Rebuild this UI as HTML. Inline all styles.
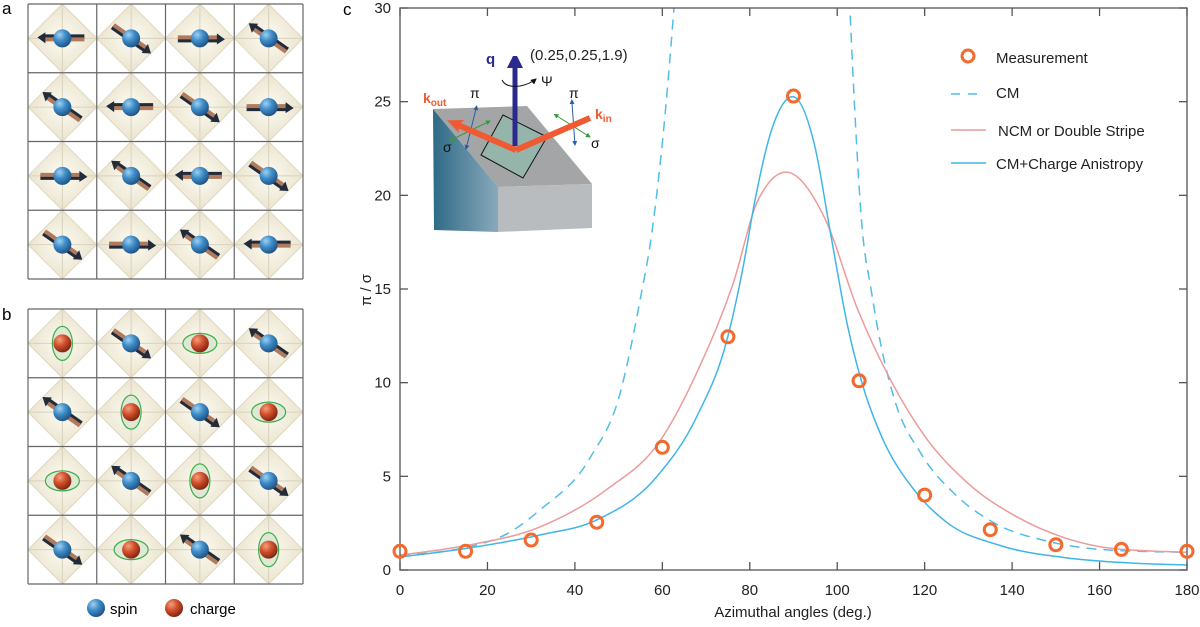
<!DOCTYPE html>
<html><head><meta charset="utf-8"><style>
body{margin:0;background:#fff;}
svg{display:block;font-family:"Liberation Sans",sans-serif;}
</style></head><body>
<svg id="fig" width="1200" height="627" viewBox="0 0 1200 627">
<defs>
<radialGradient id="blueBall" cx="0.35" cy="0.3" r="0.75"><stop offset="0" stop-color="#9fd0f0"/><stop offset="0.45" stop-color="#3f8ec9"/><stop offset="1" stop-color="#1d4f80"/></radialGradient>
<radialGradient id="redBall" cx="0.35" cy="0.3" r="0.75"><stop offset="0" stop-color="#f2a080"/><stop offset="0.45" stop-color="#d2502c"/><stop offset="1" stop-color="#7a2210"/></radialGradient>
<radialGradient id="diam" cx="0.5" cy="0.5" r="0.6"><stop offset="0" stop-color="#fdfbf3"/><stop offset="1" stop-color="#e6dfc6"/></radialGradient>
<linearGradient id="sideBlue" x1="0" x2="1" y1="0" y2="0"><stop offset="0" stop-color="#2f6a86"/><stop offset="1" stop-color="#8aa9bb"/></linearGradient>
<marker id="ahO" markerWidth="16" markerHeight="14" refX="4" refY="7" orient="auto" markerUnits="userSpaceOnUse"><path d="M0,0 L16,7 L0,14 L4,7 Z" fill="#f05a32"/></marker>
<marker id="ahB" markerWidth="12" markerHeight="16" refX="2" refY="8" orient="auto" markerUnits="userSpaceOnUse"><path d="M0,0 L16,8 L0,16 Z" fill="#2b2a8c"/></marker>
<marker id="ahS" markerWidth="5" markerHeight="5" refX="4" refY="2.5" orient="auto" markerUnits="userSpaceOnUse"><path d="M0,0 L5,2.5 L0,5 Z" fill="#2a5caa"/></marker>
<marker id="ahG" markerWidth="5" markerHeight="5" refX="4" refY="2.5" orient="auto" markerUnits="userSpaceOnUse"><path d="M0,0 L5,2.5 L0,5 Z" fill="#3a9a3a"/></marker>
<marker id="ahS0" markerWidth="5" markerHeight="5" refX="1" refY="2.5" orient="auto-start-reverse" markerUnits="userSpaceOnUse"><path d="M0,0 L5,2.5 L0,5 Z" fill="#2a5caa"/></marker>
<marker id="ahG0" markerWidth="5" markerHeight="5" refX="1" refY="2.5" orient="auto-start-reverse" markerUnits="userSpaceOnUse"><path d="M0,0 L5,2.5 L0,5 Z" fill="#3a9a3a"/></marker>
<marker id="ahK" markerWidth="6" markerHeight="6" refX="5" refY="3" orient="auto" markerUnits="userSpaceOnUse"><path d="M0,0 L6,3 L0,6 Z" fill="#111"/></marker>
</defs>
<text x="2" y="14" font-size="17">a</text>
<text x="2" y="320" font-size="17">b</text>
<text x="343" y="15" font-size="17">c</text>
<g id="panelA"></g>
<g id="panelB"></g>
<g>
<circle cx="96" cy="608" r="9" fill="url(#blueBall)"/>
<text x="110" y="614" font-size="15">spin</text>
<circle cx="174" cy="608" r="9" fill="url(#redBall)"/>
<text x="190" y="614" font-size="15">charge</text>
</g>
<g id="chart"></g>
<g>
<polygon points="433,109 527,106 592,184 498,187" fill="#a3a5a7"/>
<polygon points="433,109 498,187 498,232 434,230" fill="url(#sideBlue)"/>
<polygon points="498,187 592,184 592,228 498,232" fill="#b9bcbf"/>
<polygon points="503,115 547,137 523,178 481,155" fill="#95b5aa" stroke="#111" stroke-width="1"/>
<line x1="572" y1="103" x2="575" y2="145" stroke="#2a5caa" stroke-width="1" marker-end="url(#ahS)" marker-start="url(#ahS0)"/>
<line x1="557" y1="116" x2="590" y2="137" stroke="#3a9a3a" stroke-width="1" marker-end="url(#ahG)" marker-start="url(#ahG0)"/>
<line x1="476" y1="109" x2="466" y2="149" stroke="#2a5caa" stroke-width="1" marker-end="url(#ahS)" marker-start="url(#ahS0)"/>
<line x1="453" y1="139" x2="490" y2="121" stroke="#3a9a3a" stroke-width="1" marker-end="url(#ahG)" marker-start="url(#ahG0)"/>
<line x1="590" y1="118" x2="516" y2="150" stroke="#f05a32" stroke-width="6"/>
<line x1="516" y1="150" x2="458" y2="125" stroke="#f05a32" stroke-width="6" marker-end="url(#ahO)"/>
<line x1="515" y1="146" x2="515" y2="66" stroke="#2b2a8c" stroke-width="5" marker-end="url(#ahB)"/>
<path d="M502,80 Q506,88 520,86 Q530,84 536,79" fill="none" stroke="#111" stroke-width="1" marker-end="url(#ahK)"/>
<text x="486" y="64" font-size="15" font-weight="bold" fill="#2b2a8c">q</text>
<text x="530" y="60" font-size="15" fill="#222">(0.25,0.25,1.9)</text>
<text x="541" y="86" font-size="14" fill="#222">Ψ</text>
<text x="423" y="103" font-size="14" font-weight="bold" fill="#f05a32">k<tspan font-size="10" dy="3">out</tspan></text>
<text x="470" y="98" font-size="14" fill="#111">π</text>
<text x="569" y="98" font-size="14" fill="#111">π</text>
<text x="595" y="119" font-size="14" font-weight="bold" fill="#f05a32">k<tspan font-size="10" dy="3">in</tspan></text>
<text x="443" y="152" font-size="14" fill="#111">σ</text>
<text x="591" y="148" font-size="14" fill="#111">σ</text>
</g>
</svg>
<script>
// ---------- chart data ----------
const measAngles = [0,15,30,45,60,75,90,105,120,135,150,165,180];
const measValues = [1.0,1.0,1.6,2.55,6.55,12.45,25.3,10.1,4.0,2.15,1.35,1.1,1.0];
const cmLeftAngles = [0,15,25,32,43.5,50.3,54.9,57.6,60.5,63];
const cmLeftValues = [0.8,1.2,2.0,3.2,6.0,9.4,14.4,18,24,31];
const cmRightAngles = [102.8,104,105.5,107.8,110,113.1,119.2,126.9,136,148.2,163.4,180];
const cmRightValues = [30.5,24.6,18.8,14.9,12,9.1,6.2,4.05,2.5,1.53,1.05,0.95];
const ncmAngles = [0,15,32,47.3,59.5,68.6,76.2,81.9,88.3,97.1,104.7,112.4,120,129.9,140.6,152,163.4,180];
const ncmValues = [0.8,1.3,2.3,4.3,6.9,10.9,15.3,19.75,21.24,18.8,13.9,10.06,7.15,4.63,2.9,1.72,1.14,0.95];
const caAngles = [0,15,32,45,58.8,67.9,74.8,78.5,81.2,85,89.8,94.8,98.6,102.4,106.3,110.1,117.7,125.3,136.8,152,167.3,180];
const caValues = [0.7,1.15,1.87,2.67,5.0,8.2,12.3,16.2,19.75,23.5,25.27,22.7,17.8,13,9.5,7.15,4.24,2.5,1.34,0.66,0.37,0.27];
const xTicks = [0,20,40,60,80,100,120,140,160,180];
const yTicks = [0,5,10,15,20,25,30];

const NS='http://www.w3.org/2000/svg';
const X0=400,X1=1187,Y0=570,Y1=8;
const xs=v=>X0+(v/180)*(X1-X0);
const ys=v=>Y0-(v/30)*(Y0-Y1);
function mk(tag,attrs,parent){const e=document.createElementNS(NS,tag);for(const k in attrs)e.setAttribute(k,attrs[k]);parent.appendChild(e);return e;}
const chart=document.getElementById('chart');

const cp=mk('clipPath',{id:'plotClip'},chart);
mk('rect',{x:X0,y:Y1,width:X1-X0,height:Y0-Y1},cp);

// monotone cubic (in x) path
function pathFrom(ax,vals){
  const X=ax.map(xs),Y=vals.map(ys),n=X.length;
  const m=[],t=[];
  for(let i=0;i<n-1;i++)m.push((Y[i+1]-Y[i])/(X[i+1]-X[i]));
  for(let i=1;i<n-1;i++){
    const h0=X[i]-X[i-1],h1=X[i+1]-X[i],s0=m[i-1],s1=m[i];
    const p=(s0*h1+s1*h0)/(h0+h1);
    t[i]=(Math.sign(s0)+Math.sign(s1))*Math.min(Math.abs(s0),Math.abs(s1),0.5*Math.abs(p))||0;
  }
  t[0]=n>2?(3*m[0]-t[1])/2:m[0];
  t[n-1]=n>2?(3*m[n-2]-t[n-2])/2:m[0];
  let d='M'+X[0]+','+Y[0];
  for(let i=0;i<n-1;i++){
    const dx=(X[i+1]-X[i])/3;
    d+=` C${X[i]+dx},${Y[i]+dx*t[i]} ${X[i+1]-dx},${Y[i+1]-dx*t[i+1]} ${X[i+1]},${Y[i+1]}`;
  }
  return d;
}
const curves=mk('g',{'clip-path':'url(#plotClip)'},chart);


let e;
e=mk('path',{d:pathFrom(cmLeftAngles,cmLeftValues),fill:'none',stroke:'#52bde8','stroke-width':1.5,'stroke-dasharray':'10,7'},curves);


e=mk('path',{d:pathFrom(cmRightAngles,cmRightValues),fill:'none',stroke:'#52bde8','stroke-width':1.5,'stroke-dasharray':'10,7'},curves);


e=mk('path',{d:pathFrom(ncmAngles,ncmValues),fill:'none',stroke:'#ec9a9a','stroke-width':1.5},curves);


e=mk('path',{d:pathFrom(caAngles,caValues),fill:'none',stroke:'#3fb6e8','stroke-width':1.5},curves);



e=mk('rect',{x:X0,y:Y1,width:X1-X0,height:Y0-Y1,fill:'none',stroke:'#555','stroke-width':1.3},chart);


xTicks.forEach(t=>{
  const x=xs(t);
  mk('line',{x1:x,y1:Y0,x2:x,y2:Y0-8,stroke:'#555','stroke-width':1.3},chart);
  mk('line',{x1:x,y1:Y1,x2:x,y2:Y1+8,stroke:'#555','stroke-width':1.3},chart);
  const tx=mk('text',{x:x,y:Y0+25,'font-size':15,'text-anchor':'middle',fill:'#222'},chart);
  tx.textContent=t;
  
  
});
yTicks.forEach(t=>{
  const y=ys(t);
  mk('line',{x1:X0,y1:y,x2:X0+8,y2:y,stroke:'#555','stroke-width':1.3},chart);
  mk('line',{x1:X1,y1:y,x2:X1-8,y2:y,stroke:'#555','stroke-width':1.3},chart);
  const ty=mk('text',{x:X0-9,y:y+5,'font-size':15,'text-anchor':'end',fill:'#222'},chart);
  ty.textContent=t;
  
  
});
e=mk('text',{x:793,y:617,'font-size':15,'text-anchor':'middle',fill:'#222'},chart);
e.textContent='Azimuthal angles (deg.)';


e=mk('text',{x:0,y:0,'font-size':15,'text-anchor':'middle',fill:'#222',transform:'translate(371,290) rotate(-90)'},chart);
e.textContent='π / σ';



measAngles.forEach((a,i)=>{
  const c=mk('circle',{cx:xs(a),cy:ys(measValues[i]),r:6,fill:'none',stroke:'#f26a2e','stroke-width':3},chart);
  
  
});

const lg=mk('g',{},chart);


e=mk('circle',{cx:968,cy:56,r:6,fill:'none',stroke:'#f26a2e','stroke-width':3},lg);


e=mk('line',{x1:951,y1:94,x2:980,y2:94,stroke:'#52bde8','stroke-width':1.5,'stroke-dasharray':'9,8'},lg);


e=mk('line',{x1:951,y1:130,x2:986,y2:130,stroke:'#ec9a9a','stroke-width':1.5},lg);


e=mk('line',{x1:951,y1:163,x2:986,y2:163,stroke:'#3fb6e8','stroke-width':1.5},lg);


[['Measurement',996,63],['CM',996,98],['NCM or Double Stripe',998,136],['CM+Charge Anistropy',996,169]].forEach(s=>{
  const t=mk('text',{x:s[1],y:s[2],'font-size':15,fill:'#222'},lg);
  t.textContent=s[0];
  
  
});

// ---------- panels a, b ----------
const gridA = ['L','DR','R','UL','UL','L','DR','R','R','UL','L','DR','DR','R','UL','L'];
const gridB = ['CV','DR','CH','UL','UL','CV','DR','CH','CH','UL','CV','DR','DR','CH','UL','CV'];
const angleOf={L:180,R:0,DR:35,UL:215};
function drawGrid(parent,cells,top){
  const left=28,cs=68.75;
  cells.forEach((c,i)=>{
    const r=Math.floor(i/4),k=i%4;
    const x=left+k*cs,y=top+r*cs,cx=x+cs/2,cy=y+cs/2;
    const g=mk('g',{},parent);
    
    
    mk('polygon',{points:`${cx},${y} ${x+cs},${cy} ${cx},${y+cs} ${x},${cy}`,fill:'url(#diam)',stroke:'#e0d8bf','stroke-width':1},g);
    mk('line',{x1:x,y1:cy,x2:x+cs,y2:cy,stroke:'#d8d2bf','stroke-width':1},g);
    mk('line',{x1:cx,y1:y,x2:cx,y2:y+cs,stroke:'#d8d2bf','stroke-width':1},g);
    if(c==='CV'||c==='CH'){
      const rx=c==='CV'?10:17,ry=c==='CV'?17:10;
      mk('ellipse',{cx:cx,cy:cy,rx:rx,ry:ry,fill:'#dfe8d4',stroke:'#3fae4a','stroke-width':1.2},g);
      const b=mk('circle',{cx:cx,cy:cy,r:9,fill:'url(#redBall)'},g);
      
      
    } else {
      const a=angleOf[c];
      const ag=mk('g',{transform:`translate(${cx},${cy}) rotate(${a})`},g);
      
      
      mk('rect',{x:-22,y:-1,width:40,height:5,fill:'#222b3a'},ag);
      mk('rect',{x:-22,y:-3,width:40,height:4,fill:'#b07a5c'},ag);
      mk('polygon',{points:'17,-5 25,1 17,6',fill:'#222b3a'},ag);
      const b=mk('circle',{cx:cx,cy:cy,r:9,fill:'url(#blueBall)'},g);
      
      
    }
  });
  for(let i=0;i<=4;i++){
    mk('line',{x1:left+i*cs,y1:top,x2:left+i*cs,y2:top+4*cs,stroke:'#666','stroke-width':1.2},parent);
    mk('line',{x1:left,y1:top+i*cs,x2:left+4*cs,y2:top+i*cs,stroke:'#666','stroke-width':1.2},parent);
  }
}
drawGrid(document.getElementById('panelA'),gridA,4);
drawGrid(document.getElementById('panelB'),gridB,309);
</script>
</body></html>
